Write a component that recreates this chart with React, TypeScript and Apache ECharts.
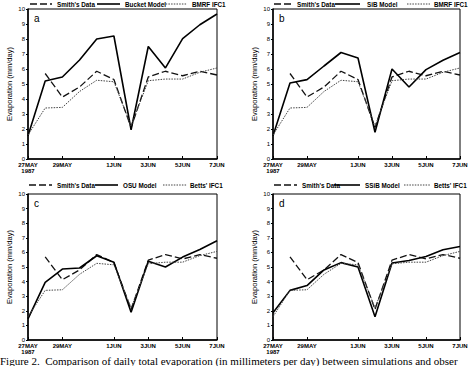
import React, { useEffect, useRef } from "react";
import * as echarts from "echarts";

const days = ["27MAY", "28MAY", "29MAY", "30MAY", "31MAY", "1JUN", "2JUN", "3JUN", "4JUN", "5JUN", "6JUN", "7JUN"];
const labeledDays = [0, 2, 5, 7, 9, 11];
const yTicks = [0, 10, 1];

const smithData = [null, 5.7, 4.13, 4.8, 5.85, 5.3, 2.1, 5.47, 5.85, 5.55, 5.85, 5.6];
const bettsIFC1 = [1.6, 3.4, 3.44, 4.5, 5.25, 5.15, 2.2, 5.22, 5.33, 5.33, 5.78, 6.07];
const bucketModel = [1.55, 5.2, 5.47, 6.6, 8.0, 8.2, 1.95, 7.5, 6.07, 8.02, 8.95, 9.67];
const sibModel = [1.55, 5.07, 5.29, 6.2, 7.1, 6.73, 1.78, 6.0, 4.8, 5.96, 6.58, 7.1];
const osuModel = [1.45, 3.95, 4.86, 4.93, 5.77, 5.32, 1.9, 5.4, 5.0, 5.68, 6.2, 6.8];
const ssibModel = [1.86, 3.4, 3.73, 4.8, 5.3, 5.0, 1.6, 5.27, 5.45, 5.72, 6.18, 6.4];

const panelLetters = ["a", "b", "c", "d"];
const modelNames = ["Bucket Model", "SiB Model", "OSU Model", "SSiB Model"];
const modelValues = [bucketModel, sibModel, osuModel, ssibModel];
const obsNames = ["BMRF IFC1", "BMRF IFC1", "Betts' IFC1", "Betts' IFC1"];
const caption = "Figure 2.  Comparison of daily total evaporation (in millimeters per day) between simulations and obser";

const grids = [
  { left: 28, top: 9, width: 189, height: 150 },
  { left: 273, top: 9, width: 187, height: 150 },
  { left: 28, top: 194, width: 189, height: 146 },
  { left: 273, top: 194, width: 187, height: 146 },
];
// legend layout per panel: y, [line x0,x1,text x] for dashed, solid, dotted
const legendLayout = [
  { y: 4, items: [[30, 52, 57], [97, 120, 125], [163, 187, 192]] },
  { y: 4, items: [[274, 292, 297], [335, 360, 367], [407, 430, 434]] },
  { y: 185, items: [[29, 52, 57], [95, 118, 123], [163, 187, 190]] },
  { y: 185, items: [[274, 297, 302], [334, 360, 365], [404, 430, 434]] },
];

const dashedStyle = { stroke: "#111", lineWidth: 1.3, lineDash: [7, 3] };
const solidStyle = { stroke: "#000", lineWidth: 1.6 };
const dottedStyle = { stroke: "#444", lineWidth: 1, lineDash: [1.5, 1.2] };

export default function App() {
  const ref = useRef<HTMLDivElement>(null);
  useEffect(() => {
    if (!ref.current) return;
    const chart = echarts.init(ref.current, null, { renderer: "svg" });
    const font = "Liberation Sans";
    const series: any[] = [];
    const graphics: any[] = [];
    grids.forEach((g, i) => {
      series.push({
        name: "Smith's Data", type: "line", xAxisIndex: i, yAxisIndex: i, data: smithData,
        symbol: "none", connectNulls: false, color: "#111",
        lineStyle: { color: "#111", width: dashedStyle.lineWidth, type: dashedStyle.lineDash },
      });
      series.push({
        name: modelNames[i], type: "line", xAxisIndex: i, yAxisIndex: i, data: modelValues[i],
        symbol: "none", color: "#000", lineStyle: { color: "#000", width: solidStyle.lineWidth, type: "solid" },
      });
      series.push({
        name: obsNames[i], type: "line", xAxisIndex: i, yAxisIndex: i, data: bettsIFC1,
        symbol: "none", color: "#444", lineStyle: { color: "#444", width: dottedStyle.lineWidth, type: dottedStyle.lineDash },
      });
      const L = legendLayout[i];
      const names = ["Smith's Data", modelNames[i], obsNames[i]];
      const styles = [dashedStyle, solidStyle, dottedStyle];
      L.items.forEach((it, k) => {
        graphics.push({
          type: "line", shape: { x1: it[0], y1: L.y, x2: it[1], y2: L.y }, style: { ...styles[k], fill: null },
        });
        graphics.push({
          type: "text", x: it[2], y: L.y,
          style: { text: names[k], fontSize: 6.3, fontWeight: "bold", fontFamily: font, fill: "#000", verticalAlign: "middle" },
        });
      });
      graphics.push({
        type: "text", x: g.left + 6, y: g.top + 4,
        style: { text: panelLetters[i], fontSize: 10, fontFamily: font, fill: "#000" },
      });
    });
    graphics.push({
      type: "text", x: 0, y: 355,
      style: { text: caption, fontSize: 11, fontFamily: "Liberation Serif", fill: "#000" },
    });
    chart.setOption({
      animation: false,
      backgroundColor: "#fff",
      grid: grids.map((g) => ({ ...g, show: true, borderColor: "#000", borderWidth: 1, backgroundColor: "transparent" })),
      xAxis: grids.map((_, i) => ({
        type: "category", gridIndex: i, data: days, boundaryGap: false,
        axisLine: { lineStyle: { color: "#000", width: 1.5 } },
        axisTick: { inside: true, length: 3, interval: (idx: number) => labeledDays.includes(idx), lineStyle: { color: "#000" } },
        axisLabel: {
          interval: (idx: number) => labeledDays.includes(idx),
          formatter: (v: string) => (v === "27MAY" ? "27MAY\n1987" : v),
          fontSize: 6, fontWeight: "bold", fontFamily: font, color: "#000", margin: 3, lineHeight: 6,
        },
        splitLine: { show: false },
      })),
      yAxis: grids.map((_, i) => ({
        type: "value", gridIndex: i, min: yTicks[0], max: yTicks[1], interval: yTicks[2],
        name: "Evaporation (mm/day)", nameLocation: "middle", nameGap: 15,
        nameTextStyle: { fontSize: 7.5, fontFamily: font, color: "#000" },
        axisLine: { show: true, lineStyle: { color: "#000", width: 1.5 } },
        axisTick: { show: true, length: 2, lineStyle: { color: "#000" } },
        axisLabel: { fontSize: 6, fontFamily: font, color: "#000", margin: 3, lineHeight: 6 },
        splitLine: { show: false },
      })),
      series,
      graphic: graphics,
    });
    return () => chart.dispose();
  }, []);
  return <div ref={ref} style={{ width: 474, height: 366, position: "absolute", left: 0, top: 0 }} />;
}
